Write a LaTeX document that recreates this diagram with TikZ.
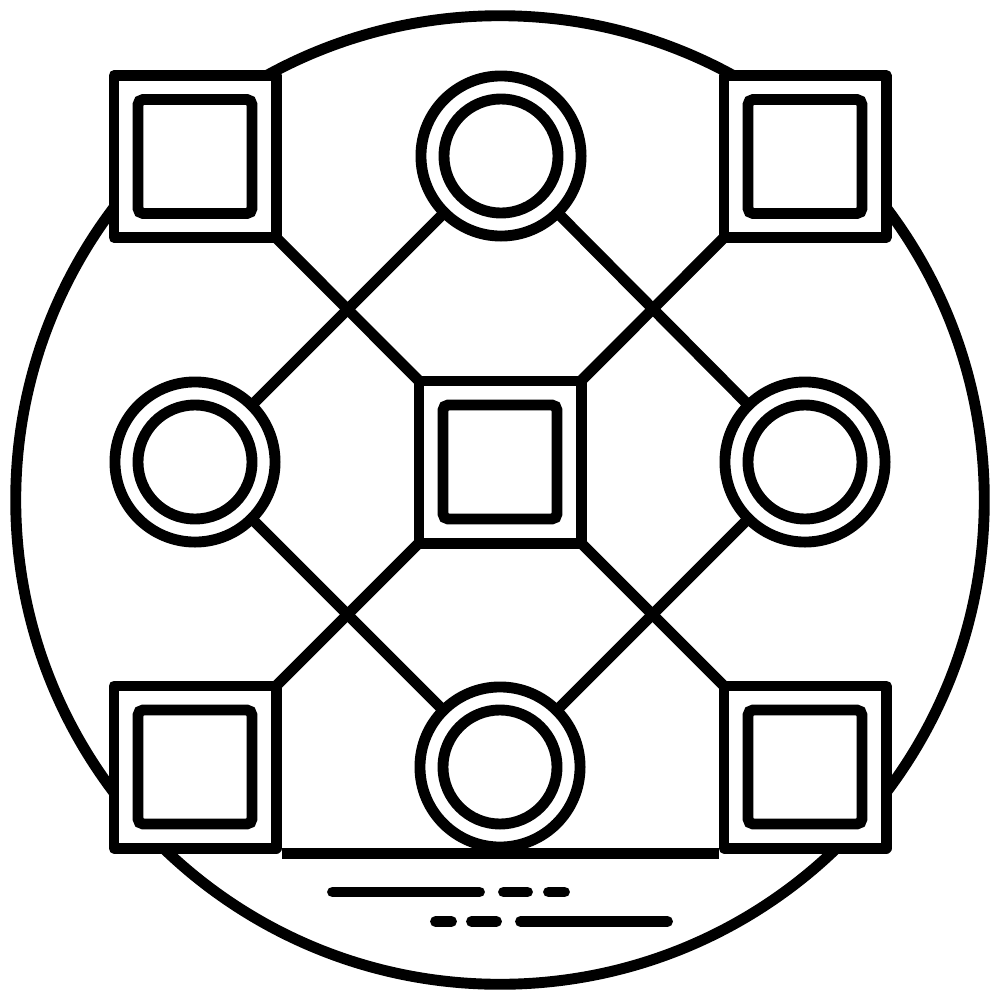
\documentclass[tikz,border=0pt]{standalone}
\usetikzlibrary{backgrounds}
\begin{document}
\begin{tikzpicture}[x=0.01cm,y=-0.01cm,
  ln/.style={line width=3.1pt},
  outsq/.style={ln,draw,fill=white,rectangle,minimum size=1.62cm,inner sep=0pt,line join=round},
  insq/.style={ln,draw,rectangle,minimum size=1.14cm,inner sep=0pt,rounded corners=1.5pt},
  outci/.style={ln,draw,fill=white,circle,minimum size=1.6cm,inner sep=0pt},
  inci/.style={ln,draw,circle,minimum size=1.14cm,inner sep=0pt},
  conn/.style={ln,line cap=butt},
  dashseg/.style={ln,line cap=round}]
\useasboundingbox (0,0) rectangle (1000,1000);
% outer shapes
\node[outsq] (tl) at (195,156.5) {};
\node[outsq] (tr) at (805,156.5) {};
\node[outsq] (c) at (500,462) {};
\node[outsq] (bl) at (195,767) {};
\node[outsq] (br) at (805,767) {};
\node[outci] (t) at (501,156) {};
\node[outci] (l) at (195,462) {};
\node[outci] (r) at (805,462) {};
\node[outci] (b) at (500,767) {};
% inner shapes
\node[insq] (tli) at (tl.center) {};
\node[insq] (tri) at (tr.center) {};
\node[insq] (ci) at (c.center) {};
\node[insq] (bli) at (bl.center) {};
\node[insq] (bri) at (br.center) {};
\node[inci] (ti) at (t.center) {};
\node[inci] (li) at (l.center) {};
\node[inci] (ri) at (r.center) {};
\node[inci] (bi) at (b.center) {};
% baseline
\draw[conn] (bl.south east) -- (br.south west);
\begin{scope}[on background layer]
  \fill[white] (0,0) rectangle (1000,1000);
  \node[ln,draw,circle,minimum size=9.68cm,inner sep=0pt] (big) at (500,500) {};
  % connectors (hidden under the filled shapes)
  \draw[conn] (tl.center) -- (c.center);
  \draw[conn] (tr.center) -- (c.center);
  \draw[conn] (bl.center) -- (c.center);
  \draw[conn] (br.center) -- (c.center);
  \draw[conn] (t.center) -- (l.center);
  \draw[conn] (t.center) -- (r.center);
  \draw[conn] (l.center) -- (b.center);
  \draw[conn] (r.center) -- (b.center);
\end{scope}
% text lines
\draw[dashseg] (332.5,892) -- (479.5,892);
\draw[dashseg] (503.5,892) -- (527.5,892);
\draw[dashseg] (548.5,892) -- (564.5,892);
\draw[dashseg] (435.5,921.5) -- (451.5,921.5);
\draw[dashseg] (471.5,921.5) -- (496.5,921.5);
\draw[dashseg] (520.5,921.5) -- (667.5,921.5);
\end{tikzpicture}
\end{document}
